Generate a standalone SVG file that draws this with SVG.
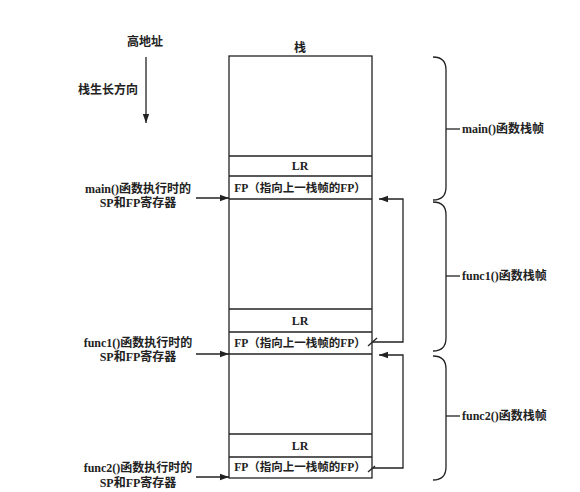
<svg xmlns="http://www.w3.org/2000/svg" width="580" height="492" viewBox="0 0 580 492">
<style>
text{font-family:"Liberation Serif","Noto Sans CJK SC",serif;font-size:12px;font-weight:bold;fill:#222}
.c{text-anchor:middle}
.cell{font-size:11.5px}
.ln{fill:none;stroke:#222;stroke-width:1.3}
.arr{fill:none;stroke:#222;stroke-width:1.3;marker-end:url(#ah)}
</style>
<defs>
<marker id="ah" markerUnits="userSpaceOnUse" markerWidth="10" markerHeight="8" refX="9" refY="4" orient="auto">
<path d="M0,0.8 L9,4 L0,7.2 Z" fill="#222"/>
</marker>
</defs>
<rect width="580" height="492" fill="#fff"/>

<g id="direction">
<text class="c" x="145" y="46">高地址</text>
<line class="arr" x1="146" y1="57" x2="146" y2="123"/>
<text class="c" x="108" y="94">栈生长方向</text>
</g>

<g id="stack">
<text class="c" x="300" y="52">栈</text>
<rect class="ln" x="229" y="56" width="143" height="422"/>
</g>

<g id="main-frame">
<line class="ln" x1="229" y1="156" x2="372" y2="156"/>
<line class="ln" x1="229" y1="176" x2="372" y2="176"/>
<line class="ln" x1="229" y1="199" x2="372" y2="199"/>
<text class="c" x="300" y="170">LR</text>
<text class="c cell" x="300" y="192">FP（指向上一栈帧的FP）</text>
</g>

<g id="func1-frame">
<line class="ln" x1="229" y1="309" x2="372" y2="309"/>
<line class="ln" x1="229" y1="332" x2="372" y2="332"/>
<line class="ln" x1="229" y1="354" x2="372" y2="354"/>
<text class="c" x="300" y="325">LR</text>
<text class="c cell" x="300" y="347">FP（指向上一栈帧的FP）</text>
</g>

<g id="func2-frame">
<line class="ln" x1="229" y1="434" x2="372" y2="434"/>
<line class="ln" x1="229" y1="457" x2="372" y2="457"/>
<text class="c" x="300" y="450">LR</text>
<text class="c cell" x="300" y="471">FP（指向上一栈帧的FP）</text>
</g>

<g id="main-sp-label">
<text class="c" x="138" y="193">main()函数执行时的</text>
<text class="c" x="138" y="207">SP和FP寄存器</text>
</g>
<g id="func1-sp-label">
<text class="c" x="138" y="347">func1()函数执行时的</text>
<text class="c" x="138" y="361">SP和FP寄存器</text>
</g>
<g id="func2-sp-label">
<text class="c" x="138" y="472">func2()函数执行时的</text>
<text class="c" x="138" y="487">SP和FP寄存器</text>
</g>

<g id="main-brace">
<path class="ln" d="M433,57 C442,57 446,61 446,70 L446,187 C446,196 442,200 433,200"/>
<line class="ln" x1="446" y1="129" x2="460" y2="129"/>
<text x="462" y="133">main()函数栈帧</text>
</g>
<g id="func1-brace">
<path class="ln" d="M433,202 C442,202 446,206 446,215 L446,338 C446,347 442,351 433,351"/>
<line class="ln" x1="446" y1="276" x2="460" y2="276"/>
<text x="462" y="280">func1()函数栈帧</text>
</g>
<g id="func2-brace">
<path class="ln" d="M433,356 C442,356 446,360 446,369 L446,467 C446,476 442,480 433,480"/>
<line class="ln" x1="446" y1="416" x2="460" y2="416"/>
<text x="462" y="420">func2()函数栈帧</text>
</g>

<g id="connectors">
<line class="arr" x1="196" y1="198" x2="229" y2="198"/>
<line class="arr" x1="196" y1="354" x2="229" y2="354"/>
<line class="arr" x1="196" y1="477" x2="229" y2="477"/>
<polyline class="arr" points="373,342 403,342 403,199 379,199"/>
<line class="ln" x1="368" y1="346" x2="377" y2="338"/>
<polyline class="arr" points="373,468 403,468 403,355 379,355"/>
<line class="ln" x1="368" y1="472" x2="375" y2="466"/>
</g>
</svg>
